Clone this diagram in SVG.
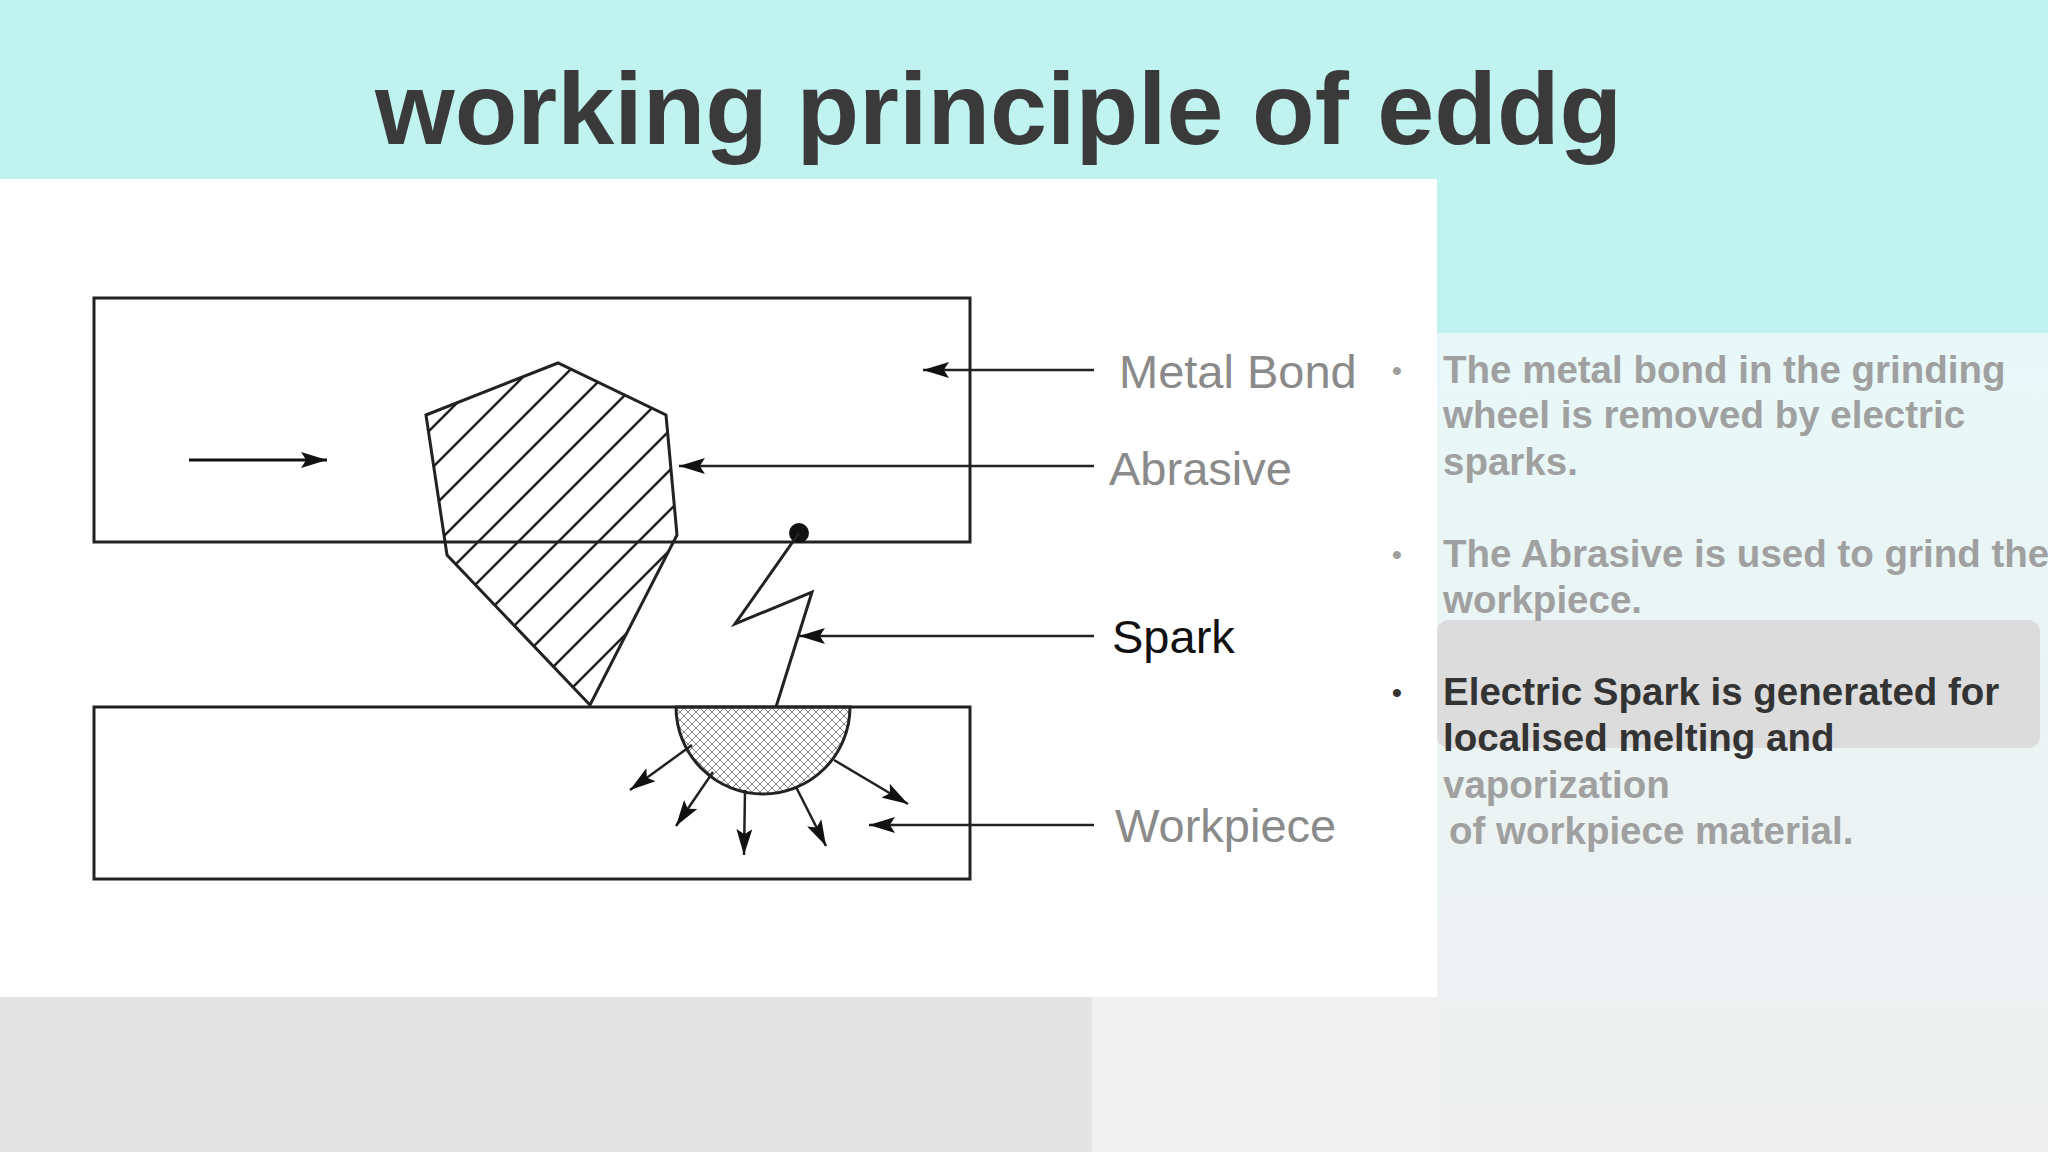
<svg xmlns="http://www.w3.org/2000/svg" width="2048" height="1152" viewBox="0 0 2048 1152">
<defs>
<linearGradient id="rg" x1="0" y1="0" x2="0" y2="1"><stop offset="0" stop-color="#e8f8f8"/><stop offset="1" stop-color="#efefef"/></linearGradient>
<pattern id="xh" width="8" height="8" patternUnits="userSpaceOnUse"><path d="M0 0L8 8M8 0L0 8" stroke="#666" stroke-width="0.8"/></pattern>
<marker id="ab" viewBox="0 0 10 10" refX="10" refY="5" markerWidth="26" markerHeight="16" markerUnits="userSpaceOnUse" orient="auto" preserveAspectRatio="none"><path d="M0 0L10 5L0 10L2 5Z" fill="#111"/></marker>
<clipPath id="cp"><polygon points="426,415 558,363 666,415 677,535 590,705 447,555"/></clipPath>
</defs>
<style>
.ln{stroke:#222;stroke-width:3;fill:none}
.lb{font-family:"Liberation Sans",Arial,sans-serif;font-size:47px;fill:#8a8a8a}
.bt{font-family:"Liberation Sans",Arial,sans-serif;font-size:38.5px;font-weight:bold;fill:#a0a0a0}
</style>
<rect width="2048" height="1152" fill="#f0f0f0"/>
<rect x="1437" y="333" width="611" height="819" fill="url(#rg)"/>
<rect width="2048" height="179" fill="#c0f2f0"/>
<rect x="1437" y="179" width="611" height="154" fill="#c0f2f0"/>
<rect x="0" y="997" width="1092" height="155" fill="#e4e4e4"/>
<rect x="0" y="179" width="1437" height="818" fill="#fff"/>
<text x="375" y="144" font-family="Liberation Sans,Arial,sans-serif" font-size="102.5" font-weight="bold" fill="#3a3a3a">working principle of eddg</text>
<g id="metalbond"><rect x="94" y="298" width="876" height="244" class="ln"/>
<line x1="189" y1="460" x2="327" y2="460" stroke="#111" stroke-width="3" marker-end="url(#ab)"/></g>
<g id="workpiece"><rect x="94" y="707" width="876" height="172" class="ln"/>
<path d="M676 707A87 87 0 0 0 850 707Z" fill="url(#xh)" stroke="#222" stroke-width="3"/></g>
<g id="abrasive"><g clip-path="url(#cp)" stroke="#222" stroke-width="2.5"><path d="M300 600L560 340M300 640L600 340M300 680L640 340M300 720L680 340M340 720L700 360M380 720L700 400M420 720L700 440M460 720L700 480M500 720L700 520M540 720L700 560M580 720L700 600M300 560L520 340M300 520L480 340"/></g>
<polygon points="426,415 558,363 666,415 677,535 590,705 447,555" class="ln"/></g>
<g id="spark"><circle cx="799" cy="533" r="10" fill="#111"/><polyline points="799,533 735,624 812,592 776,707" class="ln"/></g>
<g id="connectors" stroke="#222" stroke-width="2.5">
<line x1="1094" y1="370" x2="923" y2="370" marker-end="url(#ab)"/>
<line x1="1094" y1="466" x2="679" y2="466" marker-end="url(#ab)"/>
<line x1="1094" y1="636" x2="799" y2="636" marker-end="url(#ab)"/>
<line x1="1094" y1="825" x2="869" y2="825" marker-end="url(#ab)"/>
<line x1="692" y1="745" x2="630" y2="790" marker-end="url(#ab)"/>
<line x1="713" y1="772" x2="676" y2="826" marker-end="url(#ab)"/>
<line x1="745" y1="790" x2="744" y2="855" marker-end="url(#ab)"/>
<line x1="796" y1="787" x2="826" y2="846" marker-end="url(#ab)"/>
<line x1="834" y1="760" x2="908" y2="804" marker-end="url(#ab)"/>
</g>
<text x="1119" y="388" class="lb">Metal Bond</text>
<text x="1109" y="485" class="lb">Abrasive</text>
<text x="1112" y="653" class="lb" style="fill:#111">Spark</text>
<text x="1115" y="842" class="lb">Workpiece</text>
<rect x="1437" y="620" width="603" height="128" rx="12" fill="#dcdcdc"/>
<g class="bt">
<text x="1392" y="380" font-size="28">•</text>
<text x="1443" y="383">The metal bond in the grinding</text>
<text x="1443" y="428">wheel is removed by electric</text>
<text x="1443" y="475">sparks.</text>
<text x="1392" y="564" font-size="28">•</text>
<text x="1443" y="567">The Abrasive is used to grind the</text>
<text x="1443" y="613">workpiece.</text>
<text x="1392" y="702" font-size="28" fill="#333">•</text>
<text x="1443" y="705" fill="#333">Electric Spark is generated for</text>
<text x="1443" y="751" fill="#333">localised melting and</text>
<text x="1443" y="798">vaporization</text>
<text x="1449" y="844">of workpiece material.</text>
</g>
</svg>
